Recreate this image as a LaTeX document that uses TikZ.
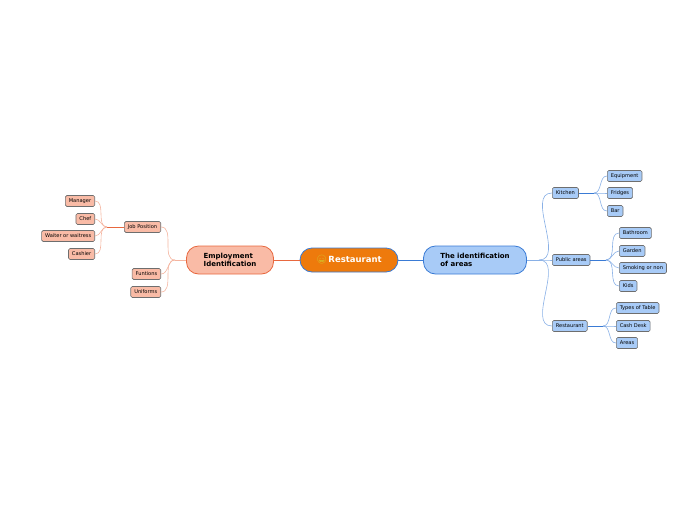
\documentclass[tikz,border=0pt]{standalone}
\usepackage{fontspec}
\setmainfont{DejaVu Sans}
\newfontfamily\emo{Noto Emoji}
\definecolor{bfill}{HTML}{A8CBF7}\definecolor{bline}{HTML}{3A7BD5}
\definecolor{rfill}{HTML}{F9BBA6}\definecolor{rline}{HTML}{E8683F}
\definecolor{ofill}{HTML}{EE7A0C}\definecolor{sline}{HTML}{6E6E6E}
\tikzset{x=1pt,y=-1pt,
 sb/.style={draw=sline,line width=0.6pt,rounded corners=1.5pt,font=\fontsize{5.1}{5.5}\selectfont,inner xsep=3.5pt,minimum height=11pt,inner ysep=0pt},
 bs/.style={sb,fill=bfill},rs/.style={sb,fill=rfill},
 big/.style={rounded corners=12pt,line width=0.8pt,minimum height=28pt,font=\fontsize{7}{7.5}\selectfont\bfseries,align=left},
 bc/.style={bline!60,line width=0.6pt},rc/.style={rline!50,line width=0.6pt}}
\begin{document}
\begin{tikzpicture}
\useasboundingbox (0,0) rectangle (697,520);
\node[big,fill=ofill,draw=bline,text=white,minimum width=98pt,minimum height=24pt,font=\fontsize{8.5}{9}\selectfont\bfseries] (c) at (349,260) {{\emo\color{yellow!80!black}😄}\,Restaurant};
\node[big,fill=bfill,draw=bline,minimum width=103pt] (r) at (475,260) {The identification\\of areas};
\node[big,fill=rfill,draw=rline,minimum width=87pt] (l) at (230,260) {Employment\\Identification};
\draw[bline,line width=1pt] (c) -- (r);
\draw[rline,line width=1pt] (c) -- (l);
% right
\node[bs,anchor=west] (k) at (552,193) {Kitchen};
\node[bs,anchor=west] (p) at (552,260) {Public areas};
\node[bs,anchor=west] (rs) at (552,326) {Restaurant};
\coordinate (rj) at (539,260);
\draw[bc] (r.east) -- (rj);
\foreach \n in {k,p,rs}{\draw[bc] (rj) to[out=0,in=180] (\n.west);}
\node[bs,anchor=west] (k1) at (607,176) {Equipment};
\node[bs,anchor=west] (k2) at (607,193) {Fridges};
\node[bs,anchor=west] (k3) at (607,211) {Bar};
\node[bs,anchor=west] (p1) at (619,233) {Bathroom};
\node[bs,anchor=west] (p2) at (619,251) {Garden};
\node[bs,anchor=west] (p3) at (619,268) {Smoking or non};
\node[bs,anchor=west] (p4) at (619,286) {Kids};
\node[bs,anchor=west] (t1) at (616,308) {Types of Table};
\node[bs,anchor=west] (t2) at (616,326) {Cash Desk};
\node[bs,anchor=west] (t3) at (616,343) {Areas};
\coordinate (kj) at (594,193);
\coordinate (pj) at (606,260);
\coordinate (tj) at (603,326);
\draw[bline,line width=1pt] (k.east) -- (kj);
\draw[bline,line width=1pt] (p.east) -- (pj);
\draw[bline,line width=1pt] (rs.east) -- (tj);
\foreach \n in {k1,k2,k3}{\draw[bc] (kj) to[out=0,in=180] (\n.west);}
\foreach \n in {p1,p2,p3,p4}{\draw[bc] (pj) to[out=0,in=180] (\n.west);}
\foreach \n in {t1,t2,t3}{\draw[bc] (tj) to[out=0,in=180] (\n.west);}
% left
\node[rs,anchor=east] (jp) at (161,227) {Job Position};
\node[rs,anchor=east] (fu) at (161,274) {Funtions};
\node[rs,anchor=east] (un) at (161,292) {Uniforms};
\coordinate (lj) at (175,260);
\draw[rc] (l.west) -- (lj);
\foreach \n in {jp,fu,un}{\draw[rc] (lj) to[out=180,in=0] (\n.east);}
\node[rs,anchor=east] (m1) at (95,201) {Manager};
\node[rs,anchor=east] (m2) at (95,219) {Chef};
\node[rs,anchor=east] (m3) at (95,236) {Waiter or waitress};
\node[rs,anchor=east] (m4) at (95,254) {Cashier};
\coordinate (jj) at (107,227);
\draw[rline,line width=1pt] (jp.west) -- (jj);
\foreach \n in {m1,m2,m3,m4}{\draw[rc] (jj) to[out=180,in=0] (\n.east);}
\end{tikzpicture}
\end{document}
